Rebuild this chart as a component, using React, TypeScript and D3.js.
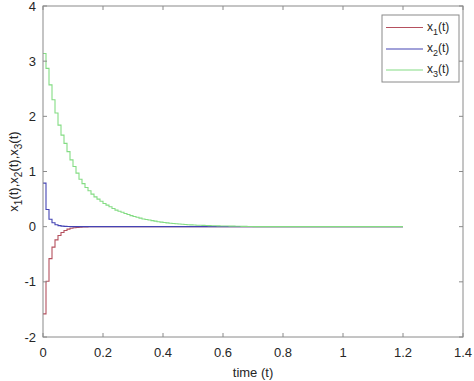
import React from "react";
import * as d3 from "d3";

const W = 474;
const H = 381;
const STEP = 0.01;
const T_END = 1.2;

const x1Values = [-1.58, -0.99, -0.58, -0.37, -0.24, -0.16, -0.105, -0.07, -0.045, -0.03, -0.02, -0.013, -0.008, -0.005, -0.003, -0.002, -0.001, 0];
const x2Values = [0.79, 0.31, 0.135, 0.07, 0.035, 0.018, 0.009, 0.005, 0.003, 0.001, 0];
const x3Values = [
  3.14, 2.87, 2.57, 2.3, 2.06, 1.84, 1.66, 1.51, 1.36, 1.21,
  1.09, 0.97, 0.86, 0.78, 0.71, 0.65, 0.59, 0.54, 0.5, 0.46,
  0.42, 0.39, 0.36, 0.33, 0.3, 0.28, 0.26, 0.24, 0.22, 0.2,
  0.185, 0.17, 0.155, 0.14, 0.13, 0.12, 0.11, 0.1, 0.09, 0.082,
  0.075, 0.068, 0.062, 0.057, 0.052, 0.047, 0.043, 0.039, 0.036, 0.033,
  0.03, 0.027, 0.025, 0.023, 0.021, 0.019, 0.017, 0.016, 0.015, 0.013,
  0.012, 0.011, 0.01, 0.009, 0.008, 0.007, 0.006, 0.005, 0.004, 0.003, 0,
];

const xTicks = [0, 0.2, 0.4, 0.6, 0.8, 1, 1.2, 1.4];
const yTicks = [-2, -1, 0, 1, 2, 3, 4];

const seriesNames = ["1", "2", "3"];
const seriesColors = ["#b5505e", "#4444b4", "#84dc84"];

const M = { left: 43, right: 463, top: 6, bottom: 337 };

function toPoints(vals: number[]): [number, number][] {
  const pts: [number, number][] = vals.map((v, i) => [i * STEP, v]);
  pts.push([T_END, vals[vals.length - 1]]);
  return pts;
}

export default function App() {
  const x = d3.scaleLinear().domain([0, 1.4]).range([M.left, M.right]);
  const y = d3.scaleLinear().domain([-2, 4]).range([M.bottom, M.top]);
  const line = d3
    .line<[number, number]>()
    .x((d) => x(d[0]))
    .y((d) => y(d[1]))
    .curve(d3.curveStepAfter);

  const data = [x1Values, x2Values, x3Values].map(toPoints);
  const axisColor = "#8a8a8a";
  const textColor = "#262626";
  const font = "'Liberation Sans', Arial, Helvetica, sans-serif";
  const tl = 4;

  const legX = 382;
  const legY = 15;
  const legW = 77;
  const legH = 67;
  const rowY = [27.5, 49, 70];

  return (
    <svg width={W} height={H} style={{ position: "absolute", left: 0, top: 0, background: "#fff" }} fontFamily={font}>
      <rect x={0} y={0} width={W} height={H} fill="#fff" />
      {data.map((d, i) => (
        <path key={i} d={line(d) || ""} fill="none" stroke={seriesColors[i]} strokeWidth={1.1} />
      ))}
      {/* axes box */}
      <rect x={M.left} y={M.top} width={M.right - M.left} height={M.bottom - M.top} fill="none" stroke={axisColor} strokeWidth={1} />
      {xTicks.map((t) => (
        <g key={"x" + t}>
          <line x1={x(t)} x2={x(t)} y1={M.bottom} y2={M.bottom - tl} stroke={axisColor} />
          <line x1={x(t)} x2={x(t)} y1={M.top} y2={M.top + tl} stroke={axisColor} />
          <text x={x(t)} y={357} fontSize={13} fill={textColor} textAnchor="middle">
            {String(t)}
          </text>
        </g>
      ))}
      {yTicks.map((t) => (
        <g key={"y" + t}>
          <line x1={M.left} x2={M.left + tl} y1={y(t)} y2={y(t)} stroke={axisColor} />
          <line x1={M.right} x2={M.right - tl} y1={y(t)} y2={y(t)} stroke={axisColor} />
          <text x={36} y={y(t) + 4.5} fontSize={13} fill={textColor} textAnchor="end">
            {String(t)}
          </text>
        </g>
      ))}
      <text x={(M.left + M.right) / 2 + 0} y={377} fontSize={13} fill={textColor} textAnchor="middle">
        time (t)
      </text>
      <text transform={`translate(18, ${(M.top + M.bottom) / 2}) rotate(-90)`} fontSize={13} fill={textColor} textAnchor="middle">
        {seriesNames.map((n, i) => (
          <React.Fragment key={n}>
            <tspan>{(i > 0 ? "," : "") + "x"}</tspan>
            <tspan fontSize={10} dy={4}>{n}</tspan>
            <tspan dy={-4}>(t)</tspan>
          </React.Fragment>
        ))}
      </text>
      {/* legend */}
      <rect x={legX} y={legY} width={legW} height={legH} fill="#fff" stroke={axisColor} />
      {seriesNames.map((n, i) => (
        <g key={"l" + n}>
          <line x1={386} x2={423} y1={rowY[i]} y2={rowY[i]} stroke={seriesColors[i]} strokeWidth={1.1} />
          <text x={427} y={rowY[i] + 3} fontSize={12} fill={textColor}>
            <tspan>x</tspan>
            <tspan fontSize={9} dy={4}>{n}</tspan>
            <tspan dy={-4}>(t)</tspan>
          </text>
        </g>
      ))}
    </svg>
  );
}
